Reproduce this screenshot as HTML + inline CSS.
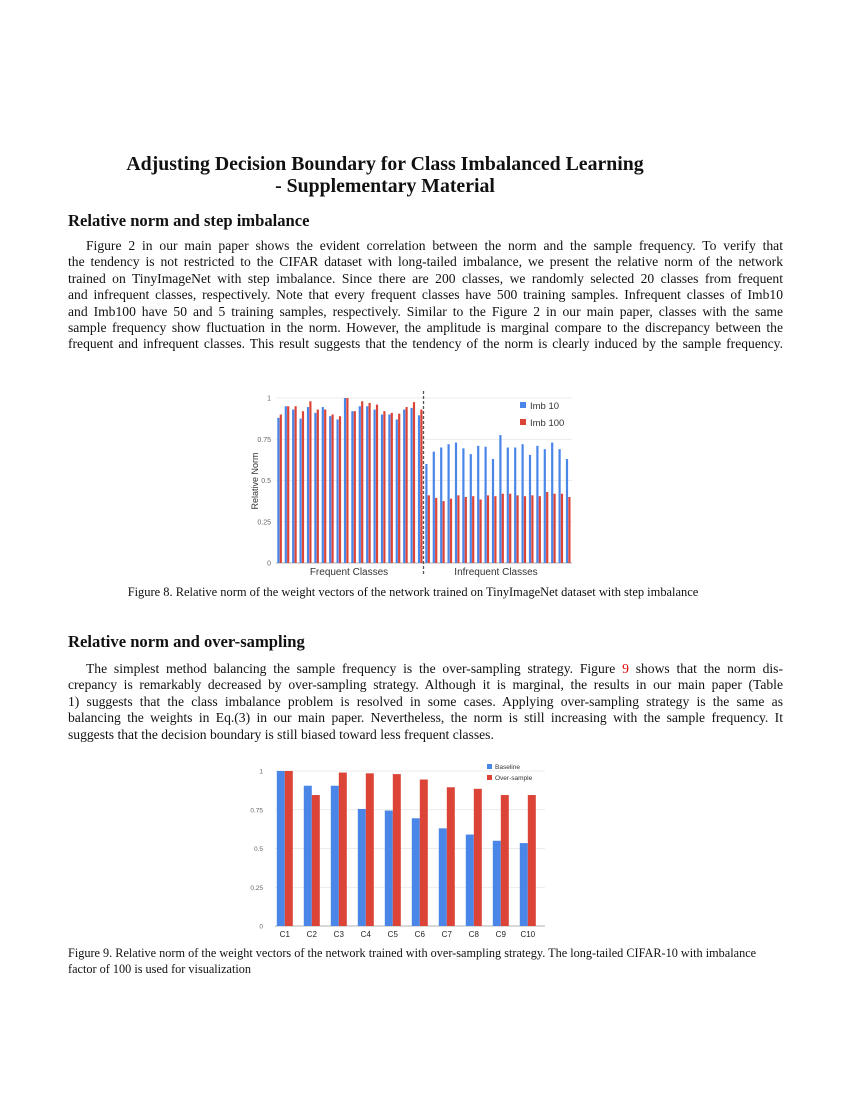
<!DOCTYPE html>
<html lang="en"><head><meta charset="utf-8">
<style>
body{margin:0;background:#fff;font-family:"Liberation Serif",serif;color:#111}
.page{position:relative;width:850px;height:1100px;overflow:hidden}
.t{position:absolute;left:68px;width:715px}
.title{font-weight:bold;font-size:19.8px;text-align:center;line-height:22px;left:0;width:770px}
h2{position:absolute;left:68px;margin:0;font-size:16.6px;font-weight:bold}
.t div{font-size:13.6px;line-height:16.4px;height:16.4px;white-space:nowrap;text-align:justify;text-align-last:justify}
.t div.i{padding-left:18px}
.t div.l{text-align-last:left}
.cap{position:absolute;font-size:11.3px;line-height:16px}
svg text{font-family:"Liberation Sans",sans-serif}
</style></head><body><div class="page">
<div class="t title" style="top:153px">Adjusting Decision Boundary for Class Imbalanced Learning<br>- Supplementary Material</div>
<h2 style="top:211px">Relative norm and step imbalance</h2>
<div class="t" style="top:238px">
<div class="i">Figure 2 in our main paper shows the evident correlation between the norm and the sample frequency. To verify that</div>
<div>the tendency is not restricted to the CIFAR dataset with long-tailed imbalance, we present the relative norm of the network</div>
<div>trained on TinyImageNet with step imbalance. Since there are 200 classes, we randomly selected 20 classes from frequent</div>
<div>and infrequent classes, respectively. Note that every frequent classes have 500 training samples. Infrequent classes of Imb10</div>
<div>and Imb100 have 50 and 5 training samples, respectively. Similar to the Figure 2 in our main paper, classes with the same</div>
<div>sample frequency show fluctuation in the norm. However, the amplitude is marginal compare to the discrepancy between the</div>
<div>frequent and infrequent classes. This result suggests that the tendency of the norm is clearly induced by the sample frequency.</div>
</div>

<svg id="c1" style="position:absolute;left:0;top:0" width="850" height="1100"></svg>

<div class="cap" style="top:584px;left:-12px;width:850px;text-align:center;font-size:12.45px">Figure 8. Relative norm of the weight vectors of the network trained on TinyImageNet dataset with step imbalance</div>
<h2 style="top:632px">Relative norm and over-sampling</h2>
<div class="t" style="top:661px">
<div class="i">The simplest method balancing the sample frequency is the over-sampling strategy. Figure <span style="color:#d00">9</span> shows that the norm dis-</div>
<div>crepancy is remarkably decreased by over-sampling strategy. Although it is marginal, the results in our main paper (Table</div>
<div>1) suggests that the class imbalance problem is resolved in some cases. Applying over-sampling strategy is the same as</div>
<div>balancing the weights in Eq.(3) in our main paper. Nevertheless, the norm is still increasing with the sample frequency. It</div>
<div class="l">suggests that the decision boundary is still biased toward less frequent classes.</div>
</div>
<div class="cap" style="top:945px;left:68px;width:760px;font-size:12.25px">Figure 9. Relative norm of the weight vectors of the network trained with over-sampling strategy. The long-tailed CIFAR-10 with imbalance<br>factor of 100 is used for visualization</div>
</div>
<script>
var s='',B='#4a86e8',R='#db4437';
var x0=276,x1=572,y0=563,k=165;
[0,.25,.5,.75,1].forEach(function(v){var y=y0-v*k;s+='<line x1="'+x0+'" x2="'+x1+'" y1="'+y+'" y2="'+y+'" stroke="'+(v?'#e4e4e4':'#999')+'" stroke-width="0.8"/>';s+='<text x="'+(x0-5)+'" y="'+(y+2.5)+'" font-size="7" fill="#666" text-anchor="end">'+v+'</text>';});
var b1=[.88,.95,.93,.875,.945,.91,.945,.89,.87,1,.92,.95,.95,.93,.90,.90,.87,.93,.94,.895,.60,.675,.70,.72,.73,.695,.66,.71,.705,.63,.775,.70,.70,.72,.655,.71,.69,.73,.69,.63];
var r1=[.90,.95,.95,.92,.98,.93,.93,.90,.89,1,.92,.98,.97,.96,.92,.91,.905,.945,.975,.93,.41,.395,.375,.39,.41,.40,.405,.385,.41,.405,.42,.42,.41,.405,.41,.405,.43,.42,.42,.40];
var w=(x1-x0)/40;
for(var i=0;i<40;i++){var x=x0+i*w+1.3;s+='<rect x="'+x+'" y="'+(y0-b1[i]*k)+'" width="2.2" height="'+b1[i]*k+'" fill="'+B+'"/>';s+='<rect x="'+(x+2.4)+'" y="'+(y0-r1[i]*k)+'" width="2.2" height="'+r1[i]*k+'" fill="'+R+'"/>';}
s+='<line x1="423.5" x2="423.5" y1="391" y2="576" stroke="#555" stroke-width="1.3" stroke-dasharray="3,2"/>';
s+='<text x="349" y="575" font-size="10" fill="#333" text-anchor="middle">Frequent Classes</text><text x="496" y="575" font-size="10" fill="#333" text-anchor="middle">Infrequent Classes</text>';
s+='<text transform="translate(258,481) rotate(-90)" font-size="9" fill="#333" text-anchor="middle">Relative Norm</text>';
s+='<rect x="520" y="402" width="6" height="6" fill="'+B+'"/><text x="530" y="409" font-size="9.5" fill="#333">Imb 10</text>';
s+='<rect x="520" y="419" width="6" height="6" fill="'+R+'"/><text x="530" y="426" font-size="9.5" fill="#333">Imb 100</text>';
x0=275;x1=545;y0=926;k=155;
[0,.25,.5,.75,1].forEach(function(v){var y=y0-v*k;s+='<line x1="'+x0+'" x2="'+x1+'" y1="'+y+'" y2="'+y+'" stroke="'+(v?'#e4e4e4':'#999')+'" stroke-width="0.8"/>';s+='<text x="'+(x0-12)+'" y="'+(y+2.5)+'" font-size="6.5" fill="#666" text-anchor="end">'+v+'</text>';});
var b2=[1,.905,.905,.755,.745,.695,.63,.59,.55,.535],r2=[1,.845,.99,.985,.98,.945,.895,.885,.845,.845];
w=(x1-x0)/10;
for(i=0;i<10;i++){var x=x0+i*w+1.8;s+='<rect x="'+x+'" y="'+(y0-b2[i]*k)+'" width="8" height="'+b2[i]*k+'" fill="'+B+'"/>';s+='<rect x="'+(x+8)+'" y="'+(y0-r2[i]*k)+'" width="8" height="'+r2[i]*k+'" fill="'+R+'"/>';s+='<text x="'+(x+8)+'" y="937" font-size="8" fill="#222" text-anchor="middle">C'+(i+1)+'</text>';}
s+='<rect x="487" y="764" width="5" height="5" fill="'+B+'"/><text x="495" y="769" font-size="6.5" fill="#333">Baseline</text>';
s+='<rect x="487" y="775" width="5" height="5" fill="'+R+'"/><text x="495" y="780" font-size="6.5" fill="#333">Over-sample</text>';
document.getElementById('c1').innerHTML=s;
</script>
</body></html>
